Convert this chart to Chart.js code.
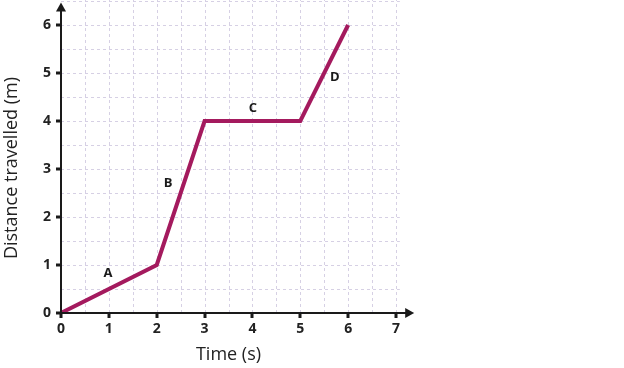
<!DOCTYPE html>
<html><head><meta charset="utf-8">
<script src="https://cdn.jsdelivr.net/npm/chart.js@4/dist/chart.umd.min.js"></script>
<style>html,body{margin:0;padding:0;background:#fff}#wrap{width:624px;height:368px}</style>
</head><body><div id="wrap"><canvas id="c" width="624" height="368"></canvas></div>
<script>
const times = [0, 2, 3, 5, 6];
const distances = [0, 1, 4, 4, 6];
const xTickLabels = [0, 1, 2, 3, 4, 5, 6, 7];
const yTickLabels = [0, 1, 2, 3, 4, 5, 6];
const segmentLabels = ['A', 'B', 'C', 'D'];
const segmentLabelX = [0.98, 2.24, 4.01, 5.72];
const segmentLabelY = [0.83, 2.71, 4.26, 4.92];
const yTitle = 'Distance travelled (m)';
const xTitle = 'Time (s)';

const FONT = '"Open Sans", "Noto Sans", sans-serif';

const drawPlugin = {
  id: 'custom',
  beforeDatasetsDraw(chart) {
    const ctx = chart.ctx, xs = chart.scales.x, ys = chart.scales.y;
    ctx.save();
    ctx.strokeStyle = '#d6d0e4';
    ctx.lineWidth = 1;
    ctx.setLineDash([3, 3]);
    const x0 = xs.getPixelForValue(0), xEnd = xs.getPixelForValue(7.08);
    const y0 = ys.getPixelForValue(0), yTop = ys.getPixelForValue(6.52);
    for (let v = 0.5; v <= 7.0001; v += 0.5) {
      const px = Math.round(xs.getPixelForValue(v)) + 0.5;
      ctx.beginPath(); ctx.moveTo(px, y0); ctx.lineTo(px, yTop); ctx.stroke();
    }
    for (let v = 0.5; v <= 6.5001; v += 0.5) {
      const py = Math.round(ys.getPixelForValue(v)) + 0.5;
      ctx.beginPath(); ctx.moveTo(x0, py); ctx.lineTo(xEnd, py); ctx.stroke();
    }
    ctx.restore();
  },
  afterDatasetsDraw(chart) {
    const ctx = chart.ctx, xs = chart.scales.x, ys = chart.scales.y;
    ctx.save();
    const x0 = xs.getPixelForValue(0), y0 = ys.getPixelForValue(0);
    ctx.fillStyle = '#1a1a1a';
    ctx.strokeStyle = '#1a1a1a';
    ctx.lineWidth = 2;
    const xArrow = xs.getPixelForValue(7.38);
    const yArrow = ys.getPixelForValue(6.47);
    ctx.beginPath(); ctx.moveTo(x0, y0); ctx.lineTo(xArrow - 4, y0); ctx.stroke();
    ctx.beginPath(); ctx.moveTo(x0, y0); ctx.lineTo(x0, yArrow + 4); ctx.stroke();
    ctx.beginPath(); ctx.moveTo(xArrow, y0); ctx.lineTo(xArrow - 9, y0 - 5); ctx.lineTo(xArrow - 9, y0 + 5); ctx.closePath(); ctx.fill();
    ctx.beginPath(); ctx.moveTo(x0, yArrow); ctx.lineTo(x0 - 5, yArrow + 9); ctx.lineTo(x0 + 5, yArrow + 9); ctx.closePath(); ctx.fill();
    xTickLabels.forEach(v => {
      const px = xs.getPixelForValue(v);
      ctx.fillRect(Math.round(px) - 1.5, y0, 3, 5);
    });
    yTickLabels.forEach(v => {
      const py = ys.getPixelForValue(v);
      ctx.fillRect(x0 - 5, Math.round(py) - 1.5, 5, 3);
    });
    ctx.font = 'bold 13px ' + FONT;
    ctx.textAlign = 'center'; ctx.textBaseline = 'middle';
    segmentLabels.forEach((t, i) => {
      ctx.fillText(t, xs.getPixelForValue(segmentLabelX[i]), ys.getPixelForValue(segmentLabelY[i]));
    });
    // y axis title
    ctx.fillStyle = '#222';
    ctx.font = '18px ' + FONT;
    ctx.translate(12, ys.getPixelForValue(3.02));
    ctx.rotate(-Math.PI / 2);
    ctx.fillText(yTitle, 0, 0);
    ctx.restore();
  }
};

new Chart(document.getElementById('c'), {
  type: 'line',
  data: {
    datasets: [{
      data: times.map((t, i) => ({x: t, y: distances[i]})),
      borderColor: '#a41a5e',
      borderWidth: 4,
      pointRadius: 0,
      tension: 0,
      fill: false,
      borderJoinStyle: 'miter'
    }]
  },
  options: {
    responsive: false,
    animation: false,
    layout: {padding: {top: 1, right: 228, left: 0, bottom: 0}},
    plugins: {legend: {display: false}, tooltip: {enabled: false}},
    scales: {
      x: {
        type: 'linear', min: 0, max: 7,
        afterBuildTicks(s) { s.ticks = xTickLabels.map(v => ({value: v})); },
        afterFit(s) { s.height = 55; s.paddingLeft = 0; s.paddingRight = 0; },
        grid: {display: false, drawTicks: false},
        border: {display: false},
        ticks: {color: '#222', padding: 8, font: {family: FONT, size: 14, weight: 'bold'}, maxRotation: 0, autoSkip: false},
        title: {display: true, text: xTitle, color: '#222', font: {family: FONT, size: 18, lineHeight: 1}, padding: {top: 4, bottom: 4}}
      },
      y: {
        type: 'linear', min: 0, max: 6.5,
        afterBuildTicks(s) { s.ticks = yTickLabels.map(v => ({value: v})); },
        afterFit(s) { s.width = 61; s.paddingTop = 0; s.paddingBottom = 0; },
        grid: {display: false, drawTicks: false},
        border: {display: false},
        ticks: {color: '#222', padding: 10, font: {family: FONT, size: 14, weight: 'bold'}, autoSkip: false},
        title: {display: false}
      }
    }
  },
  plugins: [drawPlugin]
});
</script>
</body></html>
